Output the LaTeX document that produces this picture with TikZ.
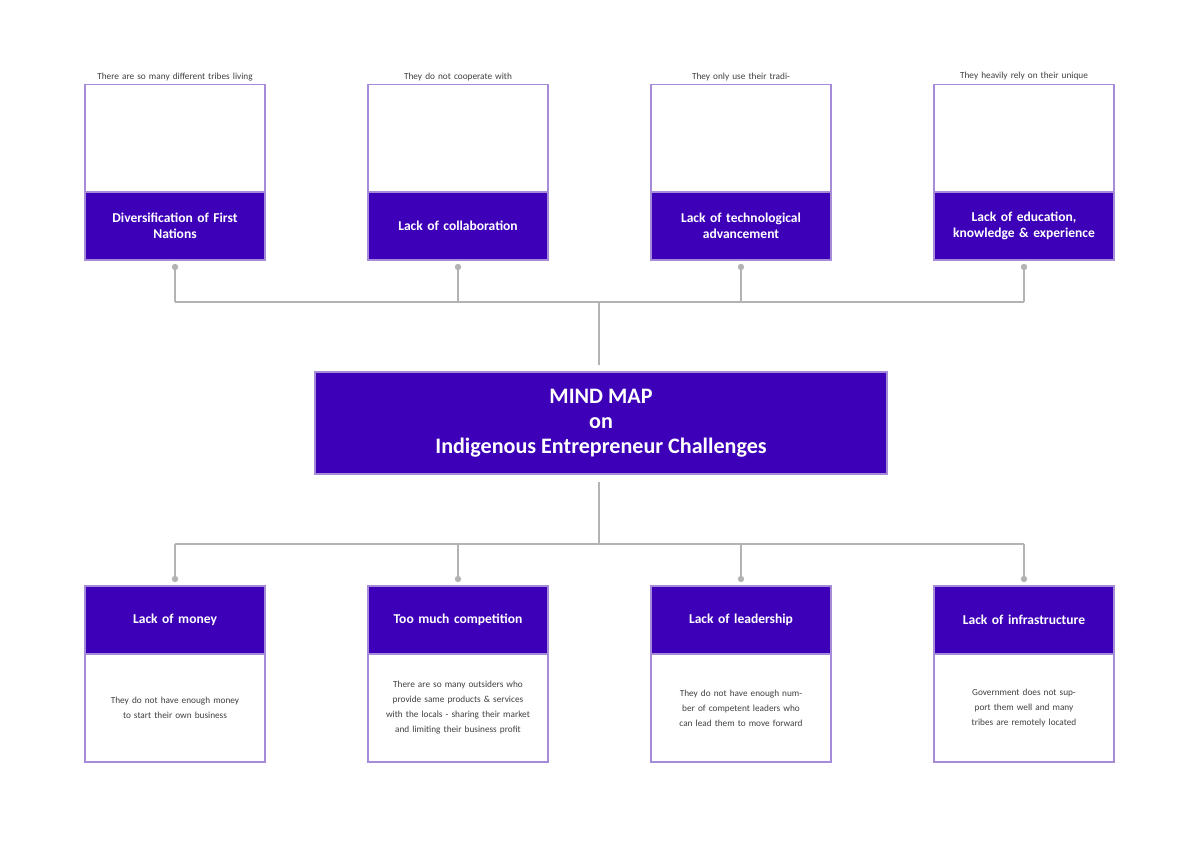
\documentclass[tikz,border=0pt]{standalone}
\usepackage{fontspec}
\setmainfont{Carlito}
\definecolor{pur}{HTML}{3D00B8}
\definecolor{pbord}{HTML}{A68BD9}
\definecolor{gline}{HTML}{B3B3B3}
\definecolor{txt}{HTML}{404040}
\tikzset{
 hd/.style={fill=pur,draw=pbord,line width=1pt,text=white,font=\bfseries\fontsize{9.5}{11.5}\selectfont,align=center,minimum width=180*0.7017pt,minimum height=68*0.7017pt,inner sep=0pt,text width=160*0.7017pt},
 bd/.style={fill=white,draw=pbord,line width=1pt,text=txt,font=\fontsize{6.5}{10.5}\selectfont,align=center,minimum width=180*0.7017pt,minimum height=108*0.7017pt,inner sep=0pt,text width=158*0.7017pt},
 ln/.style={gline,line width=1.3pt},
 dt/.style={circle,fill=gline,inner sep=0pt,minimum size=4.5pt}
}
\begin{document}
\begin{tikzpicture}[x=0.7017pt,y=-0.7017pt]
\useasboundingbox (0,0) rectangle (1200,849);
% top
\foreach \i/\x/\h/\b in {t1/175/{Diversification of First\\Nations}/{There are so many different tribes living on their own -- So unlike on another},
 t2/458/{Lack of collaboration}/{They do not cooperate with each other a lot due to their different traditions and values},
 t3/741/{Lack of technological\\advancement}/{They only use their traditional ways \& means, and do not use latest technology},
 t4/1024/{Lack of education,\\knowledge \& experience}/{They heavily rely on their unique history and their own tribal teachings from their ancestors. They do not know where to start because they do not have enough experience}}{
 \node[bd,anchor=north] (\i b) at (\x,84) {\vspace{-52pt}\\ \b};
 \node[bd,anchor=north,text depth=0pt] at (\x,84) {};
 \node[hd] (\i h) at (\x,226) {\h};
 \node[dt] (\i d) at (\x,267) {};
 \coordinate (\i c) at (\x,302);
 \draw[ln] (\i d) -- (\i c);
}
\foreach \i/\x/\h/\b in {b1/175/{Lack of money}/{They do not have enough money to start their own business},
 b2/458/{Too much competition}/{There are so many outsiders who provide same products \& services with the locals - sharing their market and limiting their business profit},
 b3/741/{Lack of leadership}/{They do not have enough number of competent leaders who can lead them to move forward},
 b4/1024/{Lack of infrastructure}/{Government does not support them well and many tribes are remotely located}}{
 \node[bd] (\i b) at (\x,708) {\b};
 \node[hd] (\i h) at (\x,620) {\h};
 \node[dt] (\i d) at (\x,579) {};
 \coordinate (\i c) at (\x,544);
 \draw[ln] (\i d) -- (\i c);
}
\node[fill=pur,draw=pbord,line width=1pt,text=white,font=\bfseries\fontsize{15.5}{17.5}\selectfont,align=center,minimum width=572*0.7017pt,minimum height=102*0.7017pt,inner sep=0pt] (m) at (601,423) {MIND MAP\\on\\Indigenous Entrepreneur Challenges};
\coordinate (mt) at (599,365); \coordinate (mtc) at (599,302);
\coordinate (mb) at (599,482); \coordinate (mbc) at (599,544);
\draw[ln] (mt) -- (mtc); \draw[ln] (mb) -- (mbc);
\draw[ln] (t1c) -- (t4c); \draw[ln] (b1c) -- (b4c);
\end{tikzpicture}
\end{document}
